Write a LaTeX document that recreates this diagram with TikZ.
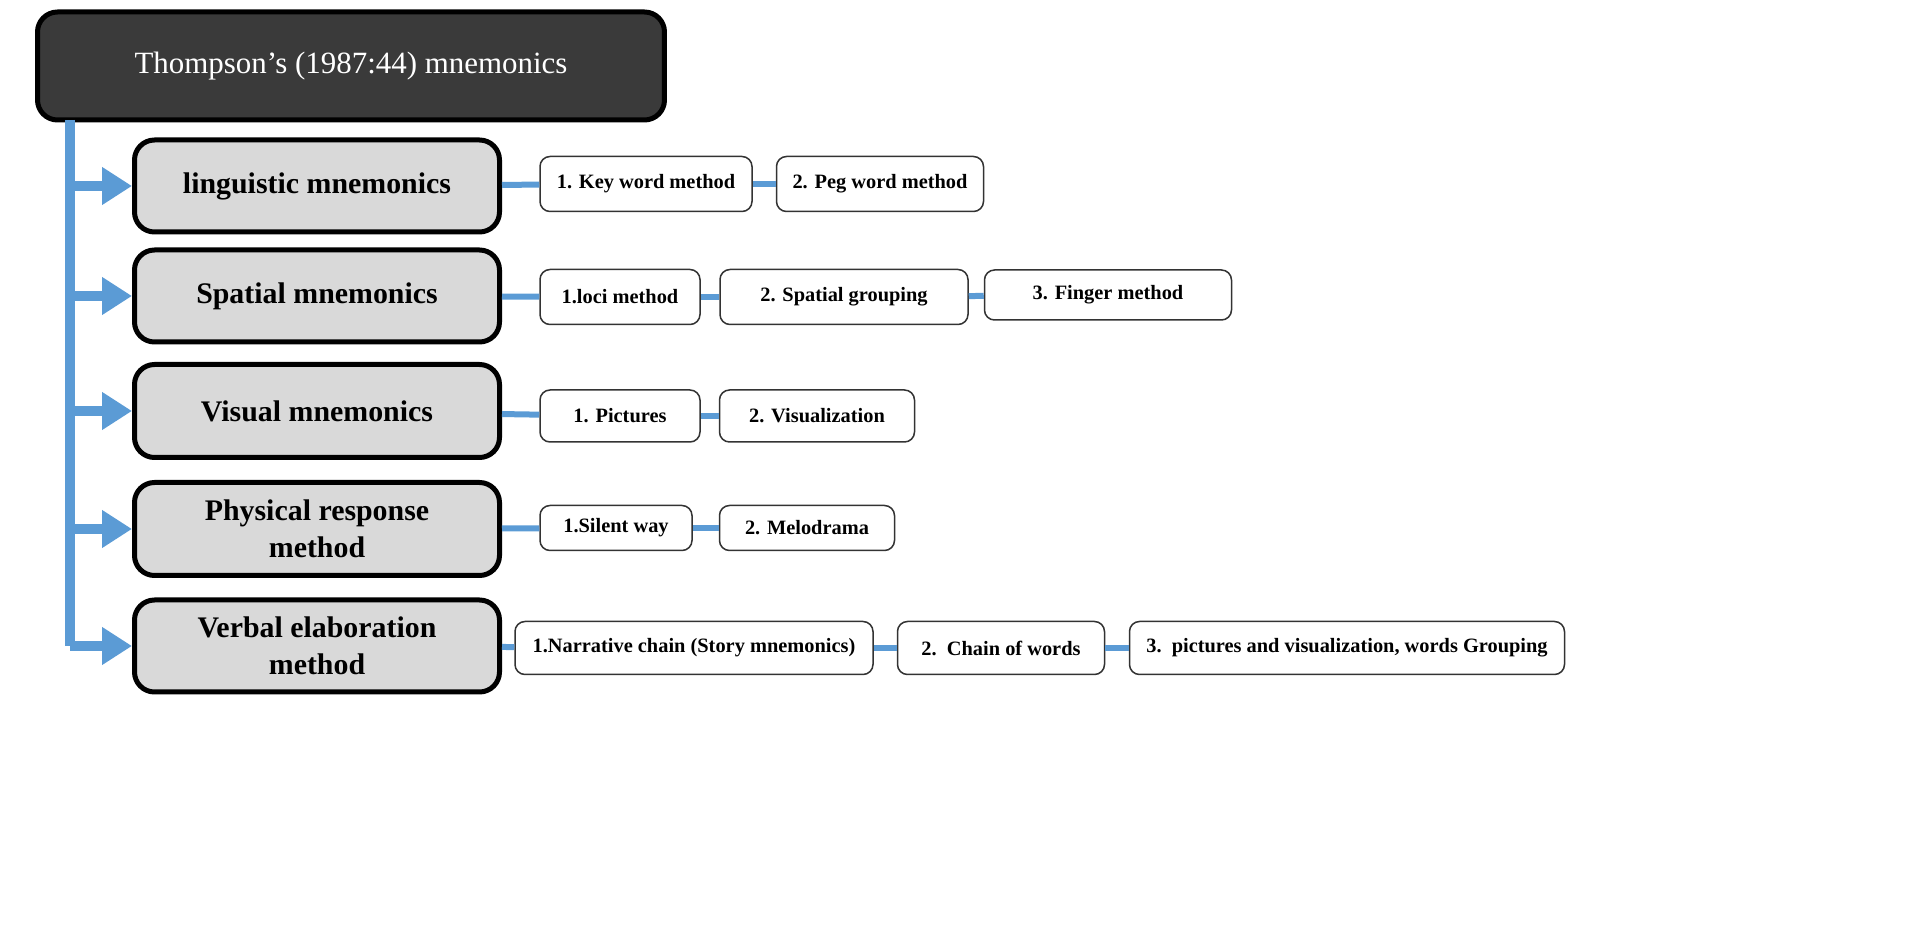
\documentclass[tikz,border=0pt]{standalone}
\usepackage{fontspec}
\setmainfont{Liberation Serif}
\usetikzlibrary{arrows.meta,positioning}
\definecolor{linkblue}{HTML}{5B9BD5}
\definecolor{titlegray}{HTML}{3A3A3A}
\definecolor{catgray}{HTML}{D9D9D9}
\tikzset{
  titlebox/.style={ draw=black, line width=0.5mm, fill=titlegray, rounded corners=2mm, text=white, font=\fontsize{8.8}{10.5}\selectfont }
}
\tikzset{
  catbox/.style={ draw=black, line width=0.5mm, fill=catgray, rounded corners=2mm, align=center, font=\fontsize{8.5}{10.5}\selectfont\bfseries }
}
\tikzset{
  subbox/.style={ draw=black!80, line width=0.15mm, fill=white, rounded corners=1mm, font=\fontsize{5.8}{7}\selectfont\bfseries }
}
\tikzset{
  link/.style={ draw=linkblue, line width=0.6mm },
  feed/.style={ draw=linkblue, line width=1mm, -{Triangle[length=3mm,width=3.6mm]} }
}
\begin{document}
\begin{tikzpicture}[x=0.1mm, y=-0.1mm]
  \useasboundingbox (0,0) rectangle (1928,932);

  \node[titlebox, minimum width=62.7mm, minimum height=10.8mm] (title) at (351, 66) {Thompson's (1987:44) mnemonics};

  % categories
  \node[catbox, minimum width=36.5mm, minimum height=9.2mm] (ling) at (317, 186) {linguistic mnemonics};
  \node[catbox, minimum width=36.5mm, minimum height=9.2mm] (spat) at (317, 296) {Spatial mnemonics};
  \node[catbox, minimum width=36.5mm, minimum height=9.3mm] (vis) at (317, 411) {Visual mnemonics};
  \node[catbox, minimum width=36.5mm, minimum height=9.3mm] (phys) at (317, 529) {Physical response\\method};
  \node[catbox, minimum width=36.5mm, minimum height=9.2mm] (verb) at (317, 646) {Verbal elaboration\\method};

  % trunk and arrows
  \coordinate (top) at (70, 120);
  \coordinate (bot) at (70, 646);
  \draw[link, line width=1mm] (top) -- (bot);
  \foreach \c/\y in {ling/186, spat/296, vis/411, phys/529, verb/646}
    \draw[feed] (70, \y) -- (\c.west);

  % items
  \node[subbox, minimum width=21.2mm, minimum height=5.5mm] (ling1) at (646, 184) {1. Key word method};
  \node[subbox, minimum width=20.7mm, minimum height=5.5mm] (ling2) at (880, 184) {2. Peg word method};

  \node[subbox, minimum width=16mm, minimum height=5.5mm] (spat1) at (620, 297) {1.loci method};
  \node[subbox, minimum width=24.8mm, minimum height=5.5mm] (spat2) at (844, 297) {2. Spatial grouping};
  \node[subbox, minimum width=24.7mm, minimum height=5mm] (spat3) at (1108, 295) {3. Finger method};

  \node[subbox, minimum width=16mm, minimum height=5.2mm] (vis1) at (620, 416) {1. Pictures};
  \node[subbox, minimum width=19.5mm, minimum height=5.2mm] (vis2) at (817, 416) {2. Visualization};

  \node[subbox, minimum width=15.2mm, minimum height=4.5mm] (phys1) at (616, 528) {1.Silent way};
  \node[subbox, minimum width=17.5mm, minimum height=4.5mm] (phys2) at (807, 528) {2. Melodrama};

  \node[subbox, minimum width=35.8mm, minimum height=5.3mm] (verb1) at (694, 648) {1.Narrative chain (Story mnemonics)};
  \node[subbox, minimum width=20.7mm, minimum height=5.3mm] (verb2) at (1001, 648) {2.\ \ Chain of words};
  \node[subbox, minimum width=43.5mm, minimum height=5.3mm] (verb3) at (1347, 648) {3.\ \ pictures and visualization, words Grouping};

  % links
  \draw[link] (ling) -- (ling1);
  \draw[link] (ling1) -- (ling2);
  \draw[link] (spat) -- (spat1);
  \draw[link] (spat1) -- (spat2);
  \draw[link] (spat2) -- (spat3);
  \draw[link] (vis) -- (vis1);
  \draw[link] (vis1) -- (vis2);
  \draw[link] (phys) -- (phys1);
  \draw[link] (phys1) -- (phys2);
  \draw[link] (verb) -- (verb1);
  \draw[link] (verb1) -- (verb2);
  \draw[link] (verb2) -- (verb3);
\end{tikzpicture}
\end{document}
